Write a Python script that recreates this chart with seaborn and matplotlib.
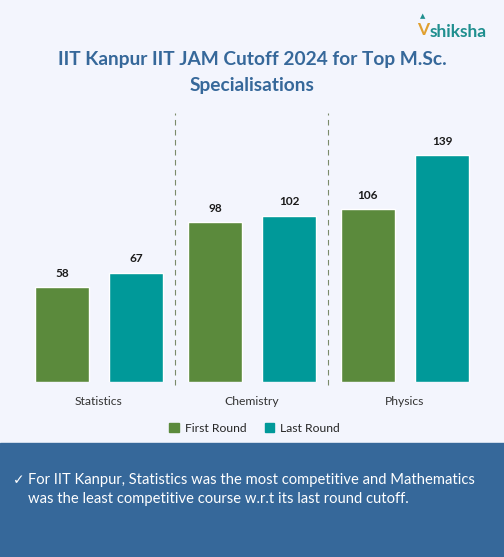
import pandas as pd
import matplotlib
matplotlib.use('Agg')
import matplotlib.pyplot as plt
import seaborn as sns
from matplotlib.patches import Rectangle

# data
courses = ['Statistics', 'Chemistry', 'Physics']
first_round = [58, 98, 106]
last_round = [67, 102, 139]
rounds = ['First Round', 'Last Round']

bg = '#F3F5FD'
green = '#5B8A3C'
teal = '#009999'
blue = '#36689A'

df = pd.DataFrame({
    'course': courses * 2,
    'round': [rounds[0]] * 3 + [rounds[1]] * 3,
    'cutoff': first_round + last_round,
})

sns.set_theme(style='white')
plt.rcParams['font.family'] = ['Lato', 'DejaVu Sans']

fig = plt.figure(figsize=(5.04, 5.57), dpi=100)
fig.patch.set_facecolor(bg)
ax = fig.add_axes([22.5 / 504, (557 - 382) / 557, 459 / 504, 269 / 557])
ax.set_facecolor(bg)

sns.barplot(data=df, x='course', y='cutoff', hue='round',
            palette=[green, teal], width=0.97, gap=0.27,
            saturation=1, legend=False, ax=ax)

for cont in ax.containers:
    ax.bar_label(cont, padding=6, fontsize=8.5, fontweight='bold',
                 color='#1a1a1a')

ax.set_ylim(0, 165)
ax.set_xlim(-0.5, 2.5)
ax.set_yticks([])
ax.set_xlabel('')
ax.set_ylabel('')
for s in ax.spines.values():
    s.set_visible(False)
ax.tick_params(axis='x', length=0, pad=10, labelsize=8.7, labelcolor='#333333')

for xpos in [0.5, 1.5]:
    ax.axvline(xpos, ymin=-0.01, ymax=1, color='#7a8a6a', lw=0.8,
               ls=(0, (5, 4)), clip_on=False)

# legend
handles = [Rectangle((0, 0), 1, 1, color=c) for c in [green, teal]]
fig.legend(handles, rounds, loc='center', bbox_to_anchor=(0.505, 1 - 428 / 557),
           ncol=2, frameon=False, fontsize=8.7, handlelength=0.8,
           handleheight=0.8, handletextpad=0.5, columnspacing=1.5)

# title
fig.text(0.5, 1 - 60 / 557, 'IIT Kanpur IIT JAM Cutoff 2024 for Top M.Sc.',
         ha='center', va='center', fontsize=13.8, fontweight='bold', color=blue)
fig.text(0.5, 1 - 86 / 557, 'Specialisations',
         ha='center', va='center', fontsize=13.8, fontweight='bold', color=blue)

# logo
fig.text(430 / 504, 1 - 32 / 557, 'shiksha', ha='left', va='center',
         fontsize=12.5, fontweight='bold', color='#1f8f8f')
fig.text(423 / 504, 1 - 30 / 557, 'V', ha='center', va='center',
         fontsize=12.5, fontweight='bold', color='#e0a030')
fig.text(423 / 504, 1 - 16 / 557, '\u25B2', ha='center', va='center',
         fontsize=5, color='#1f8f8f', family=['DejaVu Sans'])

# bottom note box
fig.patches.append(Rectangle((0, 0), 1, (557 - 443) / 557,
                             transform=fig.transFigure, color=blue, zorder=0))
fig.text(13 / 504, 1 - 480 / 557, '\u2713', ha='left', va='center',
         fontsize=10, color='white', family=['DejaVu Sans'])
fig.text(28 / 504, 1 - 480 / 557,
         'For IIT Kanpur, Statistics was the most competitive and Mathematics',
         ha='left', va='center', fontsize=10.6, color='white')
fig.text(28 / 504, 1 - 499 / 557,
         'was the least competitive course w.r.t its last round cutoff.',
         ha='left', va='center', fontsize=10.6, color='white')

fig.savefig('out.png', dpi=100, facecolor=bg)
